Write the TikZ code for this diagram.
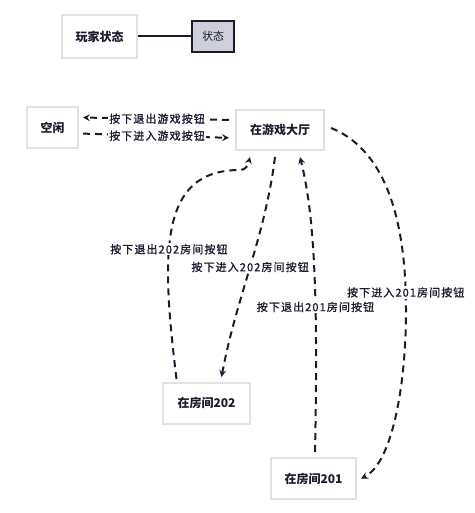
\documentclass[tikz,border=0pt]{standalone}
\usepackage{fontspec}
\newfontfamily\cjk{Noto Sans CJK SC}
\newfontfamily\cjklabel[LetterSpace=10, FakeBold=1.2]{Noto Sans CJK SC}
\usetikzlibrary{arrows, positioning}
\definecolor{ink}{HTML}{1B1B2E}
\definecolor{boxline}{HTML}{E2E2E2}
\definecolor{keyfill}{HTML}{CFCFDA}

\begin{document}
\begin{tikzpicture}[
    x=1pt, y=-1pt,
    state/.style={rectangle, draw=boxline, line width=2pt, fill=white, align=center, font=\cjk\bfseries\fontsize{12}{14}\selectfont, text=ink},
    key/.style={rectangle, draw=ink, line width=2.2pt, fill=keyfill, minimum width=42pt, minimum height=31pt, font=\cjk\fontsize{11}{13}\selectfont, text=ink},
    arrow/.style={->, >=stealth, ink, line width=2pt, dash pattern=on 7pt off 5pt},
    lbl/.style={fill=white, inner sep=1pt, font=\cjklabel\fontsize{11}{13}\selectfont, text=ink}
]
\useasboundingbox (0,0) rectangle (474,513);

% Legend
\node[state, minimum width=75pt, minimum height=43pt] (player) at (99.5,36.5) {玩家状态};
\node[key, right=53pt of player] (legend) {状态};
\draw[ink, line width=2pt] (player) -- (legend);

% States
\node[state, minimum width=51pt, minimum height=41pt] (idle) at (52.5,127.5) {空闲};
\node[state, minimum width=88pt, minimum height=40pt] (lobby) at (280,130) {在游戏大厅};
\node[state, minimum width=87pt, minimum height=41pt] (room202) at (206.5,403.5) {在房间202};
\node[state, minimum width=85pt, minimum height=41pt] (room201) at (313.5,478.5) {在房间201};

% Lobby <-> idle
\draw[arrow, shorten <=6pt, shorten >=4pt] ([yshift=10pt]lobby.west) -- node[lbl] {按下退出游戏按钮} ([yshift=10pt]idle.east);
\draw[arrow, shorten <=4pt, shorten >=6pt] ([yshift=-6pt]idle.east) -- node[lbl] {按下进入游戏按钮} ([yshift=-8pt]lobby.west);

% Room 202
\draw[arrow] ([xshift=-30pt,yshift=3pt]room202.north) .. controls +(-16,-130) and +(-80,0) .. (240,170) node[lbl, pos=0.4] {按下退出202房间按钮}
    .. controls +(6,0) and +(-2,8) .. ([xshift=-30pt,yshift=-6pt]lobby.south);
\draw[arrow] ([xshift=-5pt,yshift=-6pt]lobby.south) .. controls +(-10,80) and +(15,-80) .. ([xshift=15pt,yshift=5pt]room202.north) node[lbl, pos=0.5] {按下进入202房间按钮};

% Room 201
\draw[arrow] ([xshift=1.5pt,yshift=5pt]room201.north) .. controls +(3,-150) and +(15,60) .. ([xshift=20pt,yshift=-6pt]lobby.south) node[lbl, pos=0.38] {按下退出201房间按钮};
\draw[arrow] ([xshift=6pt,yshift=2pt]lobby.east) .. controls +(50,20) and +(0,-100) .. (406,310) node[lbl, pos=0.94] {按下进入201房间按钮}
    .. controls +(0,80) and +(30,-15) .. ([xshift=4pt]room201.east);

\end{tikzpicture}
\end{document}
